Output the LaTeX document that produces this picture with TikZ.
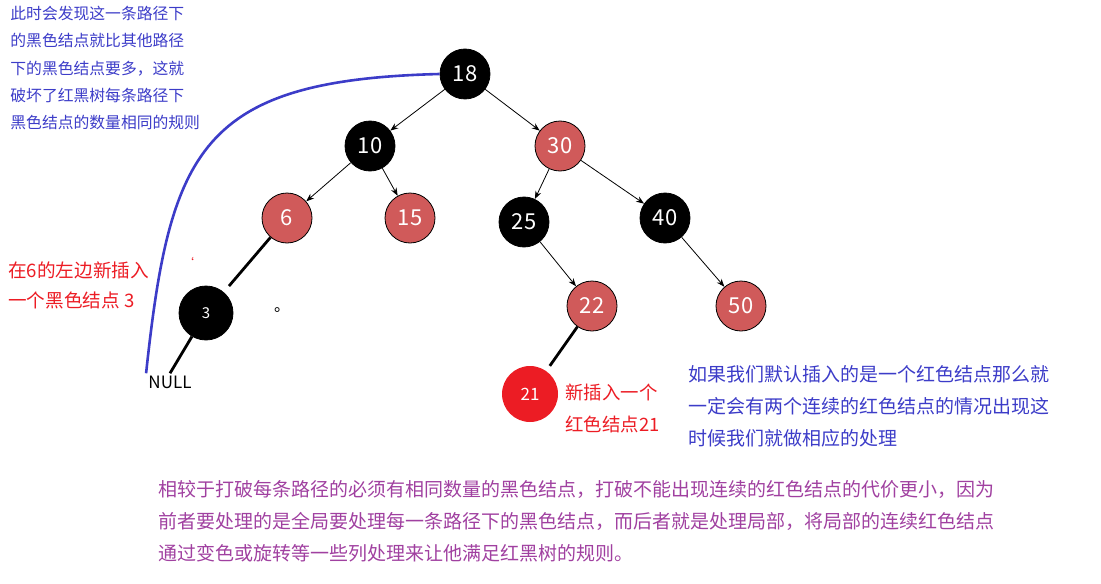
\documentclass[tikz,border=0pt]{standalone}
\usepackage{fontspec}
\setmainfont{Noto Sans CJK SC}
\usetikzlibrary{arrows.meta}
\definecolor{rb}{HTML}{D05A5A}
\definecolor{br}{HTML}{EC1C24}
\definecolor{bl}{HTML}{3C3CC8}
\definecolor{pu}{HTML}{A040A0}
\tikzset{
 blk/.style={circle,fill=black,draw=black,minimum size=25pt,inner sep=0,text=white,font=\fontsize{11}{11}\selectfont},
 red/.style={circle,fill=rb,draw=black,thin,minimum size=25pt,inner sep=0,text=white,font=\fontsize{11}{11}\selectfont},
 ar/.style={-{Stealth[length=4pt]},thin},
 thk/.style={line width=1.4pt},
 tx/.style={anchor=west,inner sep=0,align=left}
}
\begin{document}
\begin{tikzpicture}[x=0.5pt,y=-0.5pt]
\useasboundingbox (0,0) rectangle (1101,583);
\node[blk] (n18) at (465,74) {18};
\node[blk] (n10) at (370,146) {10};
\node[red] (n30) at (560,146) {30};
\node[red] (n6) at (287,218) {6};
\node[red] (n15) at (410,218) {15};
\node[blk] (n25) at (524,222) {25};
\node[blk] (n40) at (665,218) {40};
\node[red] (n22) at (592,306) {22};
\node[red] (n50) at (741,306) {50};
\node[blk,minimum size=27pt,font=\fontsize{7.5}{8}\selectfont] (n3) at (206,313) {3};
\node[circle,fill=br,minimum size=28pt,inner sep=0,text=white,font=\fontsize{8.5}{9}\selectfont] (n21) at (530,394) {21};
\node[inner sep=1pt,font=\fontsize{8.5}{9}\selectfont] (null) at (170,382) {NULL};
\draw[ar] (n18)--(n10); \draw[ar] (n18)--(n30);
\draw[ar] (n10)--(n6); \draw[ar] (n10)--(n15);
\draw[ar] (n30)--(n25); \draw[ar] (n30)--(n40);
\draw[ar] (n25)--(n22); \draw[ar] (n40)--(n50);
\draw[thk,shorten >=4pt] (n6)--(n3); \draw[thk] (n3)--(null.north);
\draw[thk,shorten >=3pt] (n22)--(n21);
\draw[bl,line width=1.3pt] (null.north west) .. controls (170,150) and (200,80) .. (n18.west);
\node[text=br,font=\fontsize{6}{6}\selectfont] at (188,262) {`};
\node[font=\fontsize{8}{8}\selectfont] at (282,310) {。};
\node[tx,text=bl,font=\fontsize{7.9}{13.6}\selectfont,anchor=north west] (t1) at (10,6) {此时会发现这一条路径下\\的黑色结点就比其他路径\\下的黑色结点要多，这就\\破坏了红黑树每条路径下\\黑色结点的数量相同的规则};
\node[tx,text=br,font=\fontsize{9.3}{15}\selectfont] (t2) at (8,285) {在6的左边新插入\\一个黑色结点 3};
\node[tx,text=br,font=\fontsize{9.2}{16}\selectfont] (t3) at (565,408) {新插入一个\\红色结点21};
\node[tx,text=bl,font=\fontsize{9.5}{16}\selectfont] (t4) at (688,406) {如果我们默认插入的是一个红色结点那么就\\一定会有两个连续的红色结点的情况出现这\\时候我们就做相应的处理};
\node[tx,text=pu,font=\fontsize{9.5}{16}\selectfont] (t5) at (158,521) {相较于打破每条路径的必须有相同数量的黑色结点，打破不能出现连续的红色结点的代价更小，因为\\前者要处理的是全局要处理每一条路径下的黑色结点，而后者就是处理局部，将局部的连续红色结点\\通过变色或旋转等一些列处理来让他满足红黑树的规则。};
\end{tikzpicture}
\end{document}
